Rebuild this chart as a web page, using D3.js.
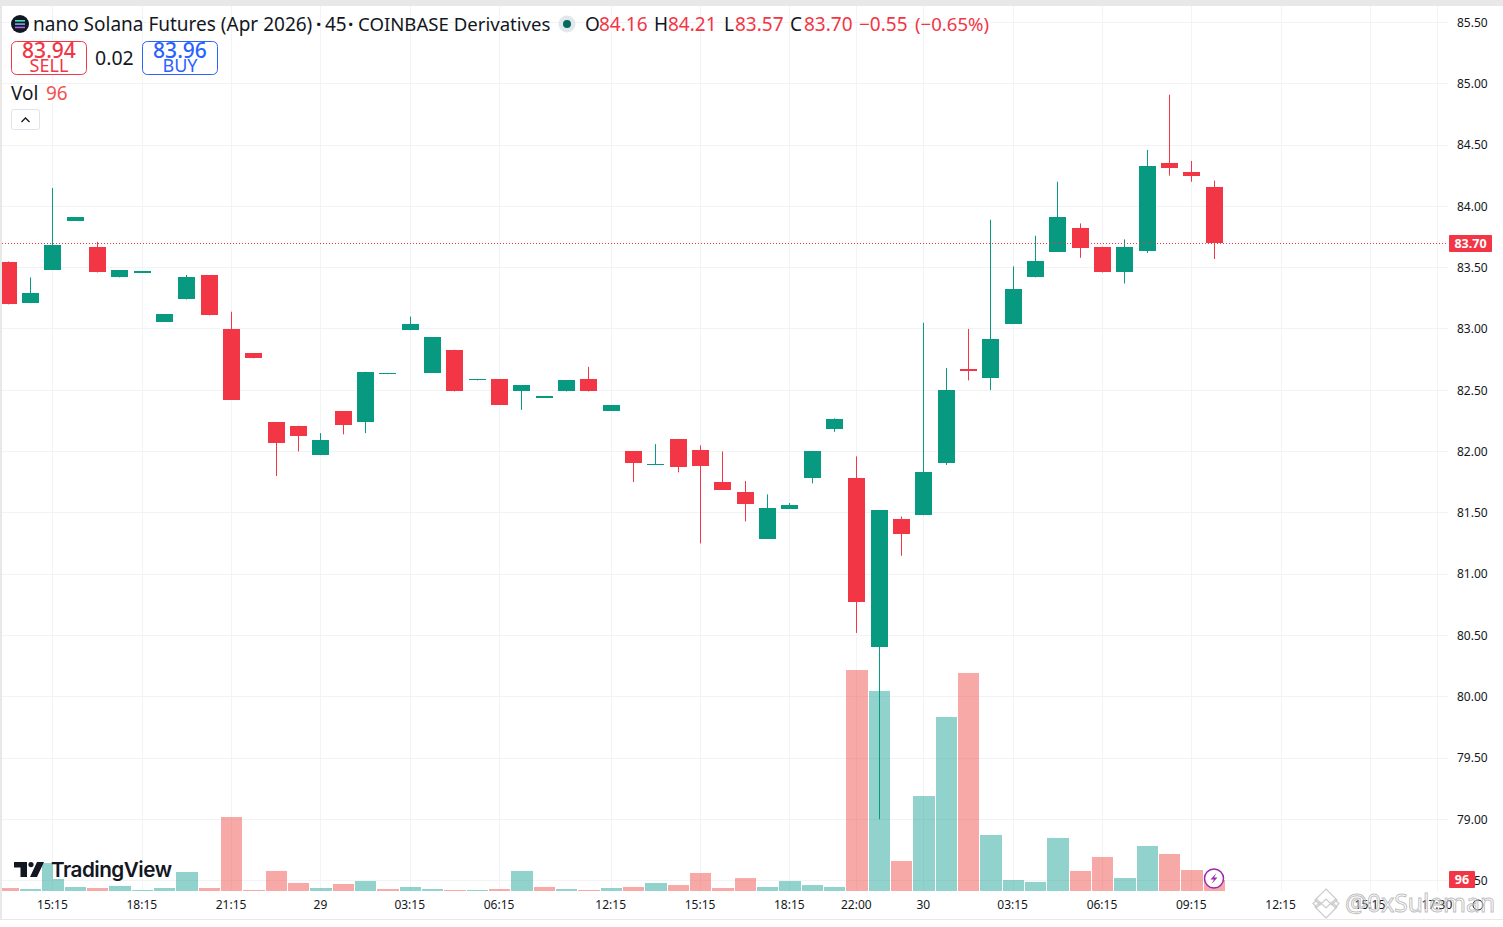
<!DOCTYPE html>
<html>
<head>
<meta charset="utf-8">
<script src="https://cdn.jsdelivr.net/npm/d3@7"></script>
<style>
  html, body { margin: 0; padding: 0; background: #fff; overflow: hidden; }
  text { font-family: "Noto Sans", sans-serif; fill: #131722; }
  .grid line { stroke: #f2f3f4; }
  .grid path { display: none; }
  .axis text { font-size: 12px; }
</style>
</head>
<body>
<svg id="chart" width="1503" height="927"></svg>
<script>
// ----- Data -----
var opens = [83.546,83.21,83.48,83.88,83.67,83.42,83.46,83.06,83.24,83.44,83.00,82.80,82.24,82.21,81.97,82.33,82.24,82.63,82.99,82.64,82.83,82.58,82.59,82.49,82.44,82.49,82.59,82.33,82.004,81.89,82.10,82.01,81.75,81.67,81.29,81.53,81.78,82.18,81.78,80.405,81.45,81.48,81.91,82.67,82.60,83.04,83.42,83.63,83.82,83.67,83.464,83.635,84.35,84.28,84.16];
var highs = [83.55,83.42,84.15,83.91,83.71,83.48,83.47,83.12,83.44,83.44,83.14,82.80,82.24,82.21,82.15,82.33,82.65,82.64,83.10,82.93,82.83,82.59,82.59,82.54,82.45,82.58,82.69,82.38,82.00,82.06,82.10,82.05,82.00,81.76,81.65,81.58,82.00,82.27,81.96,81.52,81.47,83.05,82.68,83.00,83.89,83.51,83.76,84.20,83.86,83.67,83.73,84.46,84.91,84.37,84.21];
var lows = [83.20,83.21,83.48,83.88,83.46,83.42,83.46,83.06,83.24,83.11,82.42,82.76,81.80,82.00,81.97,82.14,82.15,82.63,82.99,82.64,82.49,82.58,82.38,82.34,82.44,82.49,82.49,82.33,81.75,81.89,81.83,81.25,81.69,81.43,81.29,81.53,81.74,82.16,80.52,79.00,81.15,81.48,81.89,82.58,82.50,83.04,83.42,83.63,83.58,83.46,83.37,83.62,84.25,84.20,83.57];
var closes = [83.20,83.29,83.684,83.91,83.464,83.48,83.47,83.12,83.42,83.11,82.42,82.76,82.07,82.13,82.09,82.22,82.65,82.64,83.04,82.93,82.49,82.59,82.38,82.54,82.45,82.58,82.49,82.38,81.91,81.90,81.87,81.88,81.69,81.57,81.54,81.56,82.004,82.265,80.77,81.52,81.33,81.83,82.50,82.66,82.92,83.325,83.55,83.91,83.66,83.464,83.67,84.33,84.31,84.25,83.70];
var volumes = [26,17,244,35,26,44,9,26,166,26,646,9,175,70,26,61,87,17,35,17,9,9,17,175,35,17,9,26,35,70,52,157,26,113,35,87,52,35,1929,1746,262,829,1519,1903,489,96,79,463,175,297,113,393,323,183,96];
// 1 = teal volume bar, 0 = red volume bar
var volumeUp = [0,1,1,1,0,1,1,1,1,0,0,0,0,0,1,0,1,0,1,1,0,1,0,1,0,1,0,1,0,1,0,0,0,0,1,1,1,1,0,1,0,1,1,0,1,1,1,1,0,0,1,1,0,0,0];

var priceTicks = [85.5,85,84.5,84,83.5,83,82.5,82,81.5,81,80.5,80,79.5,79,78.5];
var timeTickIndex = [2,6,10,14,18,22,27,31,35,38,41,45,49,53,57,61,64];
var timeTickLabels = ['15:15','18:15','21:15','29','03:15','06:15','12:15','15:15','18:15','22:00','30','03:15','06:15','09:15','12:15','15:15','17:30'];
var lastPrice = 83.70;
var lastVolume = 96;

var RED = '#f23645', GREEN = '#089981';

var svg = d3.select('#chart');

// ----- Scales -----
var x = d3.scaleLinear().domain([0, 54]).range([8.3, 1214.12]);
var y = d3.scaleLinear().domain([79, 85]).range([819.3, 83.7]);
var yVol = d3.scaleLinear().domain([0, 1929]).range([891, 670]);

// snap to the pixel grid so thin lines stay sharp
var px = function(i) { return Math.floor(x(i)); };

// Window chrome
svg.append('rect').attr('width', 1503).attr('height', 6).attr('fill', '#e8e8e8');
svg.append('rect').attr('width', 2).attr('height', 919).attr('fill', '#e8e8e8');
svg.append('rect').attr('y', 919).attr('width', 1503).attr('height', 1).attr('fill', '#e8e8e8');

svg.append('defs').append('clipPath').attr('id', 'plot')
   .append('rect').attr('x', 2).attr('y', 6).attr('width', 1446).attr('height', 885);

// ----- Axes, their ticks double as the grid -----
var priceAxis = d3.axisRight(y).tickValues(priceTicks)
                  .tickFormat(d3.format('.2f')).tickSize(0).tickPadding(9);
var timeAxis = d3.axisBottom(x).tickValues(timeTickIndex)
                 .tickFormat(function(d, i) { return timeTickLabels[i]; }).tickSize(0).tickPadding(9);

var hGrid = d3.axisLeft(y).tickValues(priceTicks).tickSize(-1446).tickFormat('');
var vGrid = d3.axisBottom(x).tickValues(timeTickIndex).tickSize(-885).tickFormat('');

svg.append('g').attr('class', 'grid').attr('transform', 'translate(2,0)').call(hGrid)
   .selectAll('.tick').attr('transform', function(d) { return 'translate(0,' + (Math.floor(y(d)) + 0.5) + ')'; });
svg.append('g').attr('class', 'grid').attr('transform', 'translate(0,891)').call(vGrid)
   .selectAll('.tick').attr('transform', function(d) { return 'translate(' + (px(d) + 0.5) + ',0)'; });

var priceG = svg.append('g').attr('class', 'axis').attr('transform', 'translate(1448,0)').call(priceAxis);
priceG.select('.domain').remove();
var timeG = svg.append('g').attr('class', 'axis').attr('transform', 'translate(-1,891)').call(timeAxis);
timeG.select('.domain').remove();

// ----- Volume bars -----
var plot = svg.append('g').attr('clip-path', 'url(#plot)');

plot.selectAll('rect.vol').data(volumes).enter().append('rect')
    .attr('class', 'vol')
    .attr('x', function(d, i) { return px(i) - 10; })
    .attr('width', function(d, i) { return px(i + 1) - px(i) - 1; })
    .attr('y', function(d) { return yVol(d); })
    .attr('height', function(d) { return yVol(0) - yVol(d); })
    .attr('fill', function(d, i) { return volumeUp[i] ? '#26a69a' : '#ef5350'; })
    .attr('fill-opacity', 0.5);

// ----- Candles -----
var candleColor = function(i) { return closes[i] >= opens[i] ? GREEN : RED; };

plot.selectAll('line.wick').data(closes).enter().append('line')
    .attr('class', 'wick')
    .attr('x1', function(d, i) { return px(i) + 0.5; })
    .attr('x2', function(d, i) { return px(i) + 0.5; })
    .attr('y1', function(d, i) { return y(highs[i]); })
    .attr('y2', function(d, i) { return y(lows[i]); })
    .attr('stroke', function(d, i) { return candleColor(i); });

plot.selectAll('rect.body').data(closes).enter().append('rect')
    .attr('class', 'body')
    .attr('x', function(d, i) { return px(i) - 8; })
    .attr('width', 17)
    .attr('y', function(d, i) { return Math.round(y(Math.max(opens[i], d))); })
    .attr('height', function(d, i) {
      return Math.max(1, Math.round(y(Math.min(opens[i], d))) - Math.round(y(Math.max(opens[i], d))));
    })
    .attr('fill', function(d, i) { return candleColor(i); });

// Last price line
plot.append('line')
    .attr('x1', 2).attr('x2', 1448)
    .attr('y1', Math.round(y(lastPrice)) + 0.5).attr('y2', Math.round(y(lastPrice)) + 0.5)
    .attr('stroke', RED).attr('stroke-dasharray', '1 2');

// ----- Price tags -----
function priceTag(cy, w, txt) {
  svg.append('rect').attr('x', 1449).attr('y', cy - 8.5).attr('width', w).attr('height', 17)
     .attr('rx', 1).attr('fill', RED);
  svg.append('text').attr('x', 1449 + w / 2).attr('y', cy + 4.5).attr('text-anchor', 'middle')
     .style('fill', '#fff').style('font-size', '12.5px').style('font-weight', 700).text(txt);
}
priceTag(y(lastPrice) + 0.5, 43, d3.format('.2f')(lastPrice));
priceTag(yVol(lastVolume) - 0.5, 26, String(lastVolume));

// ----- Legend -----
function label(lx, ly, txt, color, size, weight, anchor) {
  return svg.append('text').attr('x', lx).attr('y', ly)
            .attr('text-anchor', anchor || 'start')
            .style('fill', color || '#131722')
            .style('font-size', (size || 19) + 'px')
            .style('font-weight', weight || 400)
            .text(txt);
}

// solana badge
svg.append('circle').attr('cx', 20).attr('cy', 24).attr('r', 9).attr('fill', '#131722');
svg.append('rect').attr('x', 15).attr('y', 20).attr('width', 10).attr('height', 1.6).attr('fill', '#3fe0c0');
svg.append('rect').attr('x', 15).attr('y', 23.3).attr('width', 10).attr('height', 1.6).attr('fill', '#7aa8e0');
svg.append('rect').attr('x', 15).attr('y', 26.6).attr('width', 10).attr('height', 1.6).attr('fill', '#a860f0');

label(33, 31, 'nano Solana Futures (Apr 2026)');
label(316, 31, '\u00b7', '#131722', 19, 700);
label(325, 31, '45');
label(348, 31, '\u00b7', '#131722', 19, 700);
label(358, 31, 'COINBASE Derivatives', '#131722', 18.6);

svg.append('circle').attr('cx', 567).attr('cy', 24).attr('r', 8.5).attr('fill', '#e3e6ea');
svg.append('circle').attr('cx', 567).attr('cy', 24).attr('r', 4).attr('fill', '#006b5b');

label(585, 31, 'O');
label(599, 31, '84.16', RED);
label(654, 31, 'H');
label(668, 31, '84.21', RED);
label(724, 31, 'L');
label(735, 31, '83.57', RED);
label(790, 31, 'C');
label(804, 31, '83.70', RED);
label(859, 31, '\u22120.55', RED);
label(915, 31, '(\u22120.65%)', RED, 18.6);

// sell / buy buttons
svg.append('rect').attr('x', 11.5).attr('y', 41.5).attr('width', 75).attr('height', 33).attr('rx', 5)
   .attr('fill', '#fff').attr('stroke', RED);
label(49, 58, '83.94', RED, 21, 500, 'middle');
label(49, 72, 'SELL', RED, 18, 400, 'middle');
label(95, 65, '0.02', '#131722', 19.5);
svg.append('rect').attr('x', 142.5).attr('y', 41.5).attr('width', 75).attr('height', 33).attr('rx', 5)
   .attr('fill', '#fff').attr('stroke', '#2962ff');
label(180, 58, '83.96', '#2962ff', 21, 500, 'middle');
label(180, 72, 'BUY', '#2962ff', 18, 400, 'middle');

label(11, 100, 'Vol');
label(46, 100, String(lastVolume), '#ef5350');

svg.append('rect').attr('x', 11.5).attr('y', 109.5).attr('width', 28).attr('height', 20).attr('rx', 2)
   .attr('fill', '#fff').attr('stroke', '#e0e3eb');
svg.append('path').attr('d', 'M21.5 122 L25.5 118 L29.5 122').attr('fill', 'none').attr('stroke', '#131722').attr('stroke-width', 1.3);

// ----- TradingView logo -----
svg.append('rect').attr('x', 53).attr('y', 860).attr('width', 119).attr('height', 19).attr('fill', '#fff');
svg.append('path').attr('fill', '#131722')
   .attr('d', 'M14 862 H27 V877 H20.5 V867.5 H14 Z M37 862 H44 L37 877 H30 Z');
svg.append('circle').attr('cx', 31).attr('cy', 864.6).attr('r', 2.6).attr('fill', '#131722');
label(51, 877, 'TradingView', '#131722', 20.7, 600).style('font-family', 'Inter, sans-serif').style('letter-spacing', '-0.5px');

// lightning badge on the last bar
svg.append('circle').attr('cx', 1214).attr('cy', 878.5).attr('r', 9.5).attr('fill', '#fff').attr('stroke', '#9c27b0').attr('stroke-width', 1.5);
svg.append('path').attr('d', 'M1216.5 873 L1210.5 879.5 H1214 L1211.5 884 L1217.5 877.5 H1214 Z').attr('fill', '#9c27b0');

// auto scale icon bottom right
svg.append('circle').attr('cx', 1478).attr('cy', 905).attr('r', 5).attr('fill', 'none').attr('stroke', '#131722');

// ----- Watermark -----
var wm = svg.append('g').attr('fill', '#fff').attr('stroke', '#b9b9b9').attr('stroke-opacity', 0.75).attr('stroke-width', 1.2);
wm.append('path').attr('fill', 'none').attr('d', 'M1326 889 L1337 900 L1332 905 L1326 899 L1320 905 L1315 900 Z M1326 918 L1337 907 L1332 902 L1326 908 L1320 902 L1315 907 Z M1313 903.5 L1317 899.5 L1321 903.5 L1317 907.5 Z M1331 903.5 L1335 899.5 L1339 903.5 L1335 907.5 Z');
wm.append('text').attr('x', 1345).attr('y', 912)
  .style('font-size', '24.6px').style('fill', '#fff').style('fill-opacity', 0.35)
  .style('stroke', '#b0b0b0').style('stroke-opacity', 0.8).style('stroke-width', 1)
  .text('@0xSuleman');
</script>
</body>
</html>
